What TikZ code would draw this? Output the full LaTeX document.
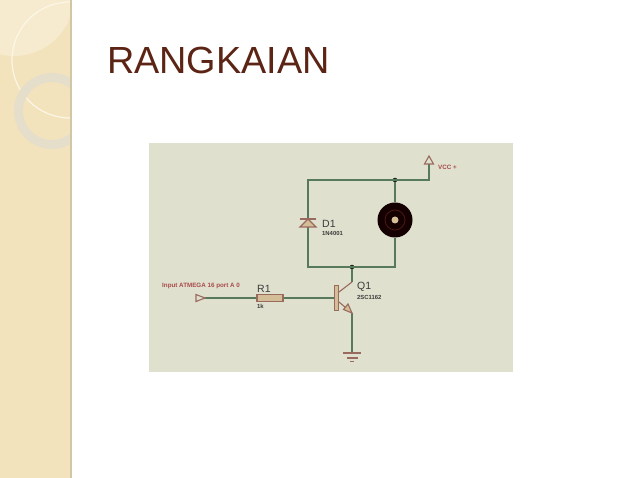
\documentclass[tikz,border=0pt]{standalone}
\usepackage{fontspec}
\setmainfont{Liberation Sans}
\usepackage{tikz}
\usetikzlibrary{arrows.meta,positioning}

\definecolor{sidefill}{HTML}{F3E3BD}
\definecolor{sidelight}{HTML}{F6EBCF}
\definecolor{sidering}{HTML}{E4DECB}
\definecolor{sideline}{HTML}{FBF6E6}
\definecolor{sideedge}{HTML}{D2C6A6}
\definecolor{panelfill}{HTML}{DFE0CE}
\definecolor{wire}{HTML}{587A5C}
\definecolor{pin}{HTML}{9A6A5E}
\definecolor{partfill}{HTML}{D3BE98}
\definecolor{titlecol}{HTML}{5C2414}
\definecolor{labelred}{HTML}{A84A4A}
\definecolor{labelgrey}{HTML}{3C3C3C}
\definecolor{motorred}{HTML}{4A1A14}

\tikzset{
  wireline/.style={draw=wire, line width=1.1pt},
  pinline/.style={draw=pin, line width=1.1pt},
  partbox/.style={draw=pin, fill=partfill, line width=1.1pt, inner sep=0pt},
  junction/.style={circle, fill=black!70!wire, inner sep=0pt, minimum size=4.6pt},
  redlabel/.style={text=labelred, font=\bfseries\fontsize{6.25}{7}\selectfont, inner sep=0pt},
  partname/.style={text=labelgrey, font=\fontsize{10.5}{12}\selectfont, inner sep=0pt, anchor=west},
  partvalue/.style={text=labelgrey, font=\bfseries\fontsize{5.9}{7}\selectfont, inner sep=0pt, anchor=west},
}

\begin{document}
\begin{tikzpicture}[x=1pt,y=-1pt]
  \useasboundingbox (0,0) rectangle (638,478);
  % side band
  \fill[white] (0,0) rectangle (638,478);
  \begin{scope}
    \clip (0,0) rectangle (70,478);
    \fill[sidefill] (0,0) rectangle (70,478);
    \fill[sidelight] (14,-4) circle (60);
    \draw[draw=sideline, line width=1.2pt] (70,60) circle (58);
    \draw[draw=sidering, line width=9pt] (52,111) circle (33.5);
  \end{scope}
  \fill[sideedge] (70,0) rectangle (71.5,478);
  % panel and title
  \fill[panelfill] (149,143) rectangle (513,372);
  \node[text=titlecol, font=\fontsize{37.8}{42}\selectfont, inner sep=0pt, anchor=base west] (title) at (107,74) {RANGKAIAN};

  % wire corners
  \coordinate (tl) at (308,180);
  \coordinate (tr) at (429,180);
  \coordinate (bl) at (308,267);
  \coordinate (br) at (395,267);
  \coordinate (vcc) at (429,164);
  \coordinate (coll) at (352,282);
  \coordinate (emit) at (352,313);
  \coordinate (gnd) at (352,353);
  \coordinate (in) at (205,298);
  \node[junction] (top) at (395,180) {};
  \node[junction] (bot) at (352,267) {};

  % parts
  \node[partbox, minimum width=26pt, minimum height=7pt] (r1) at (270,298) {};
  \node[partbox, minimum width=4.5pt, minimum height=25pt] (q1) at (336.5,298) {};
  \node[circle, fill=black!92!red, minimum size=35pt, inner sep=0pt] (motor) at (395,220) {};
  \draw[draw=motorred, line width=0.8pt] (motor) circle (10);
  \node[circle, fill=partfill, minimum size=7pt, inner sep=0pt] (hub) at (motor) {};
  \coordinate (dtop) at (308,219);
  \coordinate (dbot) at (308,227);

  % wires
  \draw[wireline] (dtop) -- (tl) -- (tr) -- (vcc);
  \draw[wireline] (dbot) -- (bl) -- (br) -- (motor);
  \draw[wireline] (top) -- (motor);
  \draw[wireline] (in) -- (r1);
  \draw[wireline] (r1) -- (q1);
  \draw[wireline] (bot) -- (coll);
  \draw[wireline] (emit) -- (gnd);

  % diode
  \draw[pinline] (300,219) -- (316,219);
  \draw[pinline, fill=partfill] (dtop) -- (316,227) -- (300,227) -- cycle;
  % transistor legs
  \draw[pinline] (339,292) -- (coll);
  \draw[pinline] (339,302) -- (emit);
  \draw[pinline, fill=partfill] (352,313) -- (343.5,309.5) -- (348,304) -- cycle;
  % terminals
  \draw[pinline, fill=panelfill] (429,156) -- (433.5,164) -- (424.5,164) -- cycle;
  \draw[pinline, fill=panelfill] (in) -- (196,294.5) -- (196,301.5) -- cycle;
  % ground
  \draw[pinline] (343,353) -- (361,353);
  \draw[pinline] (346.5,358) -- (357.5,358);
  \draw[pinline] (350,361.5) -- (354,361.5);

  % labels
  \node[redlabel, anchor=west] (inlabel) at (162,286) {Input ATMEGA 16 port A 0};
  \node[redlabel, anchor=west] (vcclabel) at (438,167.5) {VCC +};
  \node[partname] (r1name) at (257,289) {R1};
  \node[partvalue] (r1value) at (257,306) {1k};
  \node[partname] (d1name) at (322,224) {D1};
  \node[partvalue] (d1value) at (322,233.5) {1N4001};
  \node[partname] (q1name) at (357,287) {Q1};
  \node[partvalue] (q1value) at (357,297.5) {2SC1162};
\end{tikzpicture}
\end{document}
